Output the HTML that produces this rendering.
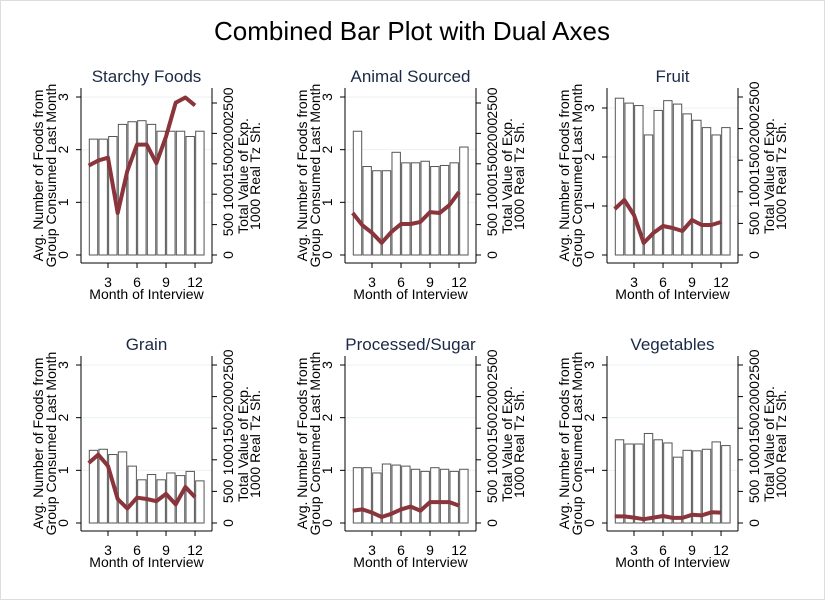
<!DOCTYPE html>
<html><head><meta charset="utf-8"><style>
body{margin:0;background:#fff;}
svg{display:block;font-family:"Liberation Sans",sans-serif;}
</style></head><body>
<svg id="c" width="825" height="600" viewBox="0 0 825 600">
<rect x="0.5" y="0.5" width="824" height="599" fill="#fff" stroke="#ddd"/>
<text x="412" y="40" text-anchor="middle" font-size="26" fill="#000">Combined Bar Plot with Dual Axes</text>
</svg>
<script>
const months = [1,2,3,4,5,6,7,8,9,10,11,12];
const panelTitles = ["Starchy Foods","Animal Sourced","Fruit","Grain","Processed/Sugar","Vegetables"];
const starchyBars = [2.2,2.2,2.25,2.48,2.53,2.55,2.48,2.35,2.35,2.35,2.25,2.35];
const starchyLine = [1470,1555,1600,690,1380,1815,1815,1510,1945,2505,2590,2460];
const animalBars = [2.35,1.68,1.6,1.6,1.95,1.75,1.75,1.78,1.68,1.7,1.75,2.05];
const animalLine = [690,490,365,200,380,510,510,545,705,690,820,1035];
const fruitBars = [3.2,3.1,3.05,2.45,2.95,3.15,3.08,2.88,2.75,2.6,2.45,2.6];
const fruitLine = [728,870,633,190,348,459,427,380,554,475,475,522];
const grainBars = [1.38,1.4,1.3,1.35,1.08,0.82,0.92,0.82,0.95,0.9,0.98,0.8];
const grainLine = [950,1080,900,380,230,400,380,345,460,295,570,410];
const processedBars = [1.05,1.05,0.95,1.12,1.1,1.08,1.02,0.98,1.05,1.02,0.98,1.02];
const processedLine = [195,215,165,95,145,215,260,195,330,330,330,275];
const vegBars = [1.58,1.5,1.5,1.7,1.58,1.52,1.25,1.38,1.37,1.4,1.54,1.47];
const vegLine = [105,105,85,60,85,110,80,80,130,120,170,165];
const leftTicks = [0,1,2,3];
const rightTicks = [0,500,1000,1500,2000,2500];
const xTicks = [3,6,9,12];

const NS="http://www.w3.org/2000/svg";
const svg=document.getElementById('c');
function mk(tag,attrs,parent){const e=document.createElementNS(NS,tag);for(const k in attrs)e.setAttribute(k,attrs[k]);(parent||svg).appendChild(e);return e;}

const panels=[
 {bars:starchyBars,line:starchyLine,ox:0,oy:0,lpx:158,rpx:152},
 {bars:animalBars,line:animalLine,ox:264,oy:0,lpx:158,rpx:152},
 {bars:fruitBars,line:fruitLine,ox:526,oy:0,lpx:147,rpx:158},
 {bars:grainBars,line:grainLine,ox:0,oy:268,lpx:158,rpx:158},
 {bars:processedBars,line:processedLine,ox:264,oy:268,lpx:158,rpx:158},
 {bars:vegBars,line:vegLine,ox:526,oy:268,lpx:158,rpx:158}
];
panels.forEach((p,i)=>{
 const g=mk('g',{});
 
 
 const L=81+p.ox,R=212+p.ox,Y0=255+p.oy,T=88+p.oy,B=263+p.oy;
 const x=m=>79+p.ox+m*9.67;
 const yl=v=>Y0-v*p.lpx/3;
 const yr=v=>Y0-v*p.rpx/2500;
 [1,2,3].forEach(v=>{if(yl(v)>=T){const gl=mk('line',{x1:L,x2:R,y1:yl(v),y2:yl(v),stroke:'#eaf2f3','stroke-width':1},g);
  
  }});
 p.bars.forEach((v,j)=>{const r=mk('rect',{x:x(months[j]+0.5)-4.2,y:yl(v),width:8.4,height:Y0-yl(v),fill:'#fff',stroke:'#555','stroke-width':1},g);
  
  });
 const pts=p.line.map((v,j)=>x(months[j]).toFixed(1)+','+yr(v).toFixed(1)).join(' ');
 const pl=mk('polyline',{points:pts,fill:'none',stroke:'#8a343b','stroke-width':4,'stroke-linejoin':'round'},g);
 
 
 const ax=[mk('line',{x1:L,x2:L,y1:T,y2:B,stroke:'#000'},g),mk('line',{x1:R,x2:R,y1:T,y2:B,stroke:'#000'},g),mk('line',{x1:L,x2:R,y1:B,y2:B,stroke:'#000'},g)];
 ax.forEach(a=>{});
 leftTicks.forEach(v=>{const yy=yl(v);mk('line',{x1:L-5,x2:L,y1:yy,y2:yy,stroke:'#000'},g);
  const t=mk('text',{x:0,y:0,transform:`translate(${L-13},${yy}) rotate(-90)`,'text-anchor':'middle','font-size':14,fill:'#000'},g);t.textContent=v;
  
  });
 rightTicks.forEach(v=>{const yy=yr(v);mk('line',{x1:R,x2:R+5,y1:yy,y2:yy,stroke:'#000'},g);
  const t=mk('text',{x:0,y:0,transform:`translate(${R+21},${yy}) rotate(-90)`,'text-anchor':'middle','font-size':14,fill:'#000'},g);t.textContent=v;
  
  });
 xTicks.forEach(v=>{const xx=x(v);mk('line',{x1:xx,x2:xx,y1:B,y2:B+5,stroke:'#000'},g);
  const t=mk('text',{x:xx,y:B+24,'text-anchor':'middle','font-size':14,fill:'#000'},g);t.textContent=v;
  
  });
 const cx=(L+R)/2;
 const tt=mk('text',{x:cx,y:82+p.oy,'text-anchor':'middle','font-size':17,fill:'#1a2a44'},g);tt.textContent=panelTitles[i];
 
 
 const xt=mk('text',{x:cx,y:B+36,'text-anchor':'middle','font-size':14,fill:'#000'},g);xt.textContent='Month of Interview';
 
 
 const my=(T+B)/2;
 [['Avg. Number of Foods from',L-38],['Group Consumed Last Month',L-25]].forEach(([s,xx])=>{
  const t=mk('text',{x:0,y:0,transform:`translate(${xx},${my}) rotate(-90)`,'text-anchor':'middle','font-size':14,fill:'#000'},g);t.textContent=s;
  
  });
 [['Total Value of Exp.',R+36],['1000 Real Tz Sh.',R+48]].forEach(([s,xx])=>{
  const t=mk('text',{x:0,y:0,transform:`translate(${xx},${T+88}) rotate(-90)`,'text-anchor':'middle','font-size':14,fill:'#000'},g);t.textContent=s;
  
  });
});
</script>
</body></html>
